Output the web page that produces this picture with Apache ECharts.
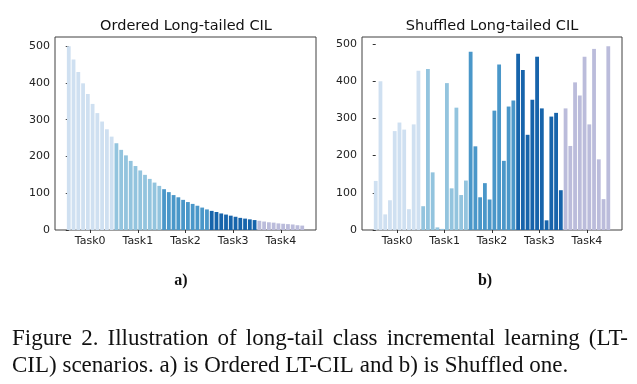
<!DOCTYPE html>
<html>
<head>
<meta charset="utf-8">
<script src="https://cdn.jsdelivr.net/npm/echarts@6/dist/echarts.min.js"></script>
<style>
html,body{margin:0;padding:0;background:#fff;}
#chart{width:637px;height:384px;}
</style>
</head>
<body>
<div id="chart"></div>
<script>
// ---- data ----
const taskLabels = ['Task0', 'Task1', 'Task2', 'Task3', 'Task4'];
const classesPerTask = 10;
const orderedValues = [
  500, 464, 430, 399, 370, 343, 318, 295, 274, 254,
  236, 218, 203, 188, 174, 162, 150, 139, 129, 120,
  111, 103, 95, 89, 82, 76, 71, 66, 61, 56,
  52, 49, 45, 42, 39, 36, 33, 31, 29, 27,
  25, 23, 21, 20, 18, 17, 16, 15, 13, 12
];
const shuffledValues = [
  132, 400, 42, 80, 266, 289, 270, 56, 284, 428,
  64, 433, 155, 7, 3, 395, 112, 329, 94, 133,
  479, 225, 88, 126, 82, 321, 445, 186, 332, 348,
  474, 430, 256, 350, 466, 327, 26, 305, 315, 107,
  327, 226, 397, 362, 466, 284, 487, 190, 83, 494
];
const yTicks = [0, 100, 200, 300, 400, 500];
const titles = ['Ordered Long-tailed CIL', 'Shuffled Long-tailed CIL'];
const subLabels = ['a)', 'b)'];
const captionLines = [
  'Figure 2.  Illustration of long-tail class incremental learning (LT-',
  'CIL) scenarios. a) is Ordered LT-CIL and b) is Shuffled one.'
];

// ---- styling ----
const taskColors = ['#cfe0f1', '#93c4de', '#4a97c9', '#1764ab', '#bbbcdb'];
const taskCenters = taskLabels.map((_, k) => k * classesPerTask + (classesPerTask - 1) / 2);
const n = orderedValues.length;
const xPad = 0.4 + 0.05 * (n - 1 + 0.8);

function pairs(arr) { return arr.map((v, i) => [i, v]); }
function colorOf(p) { return taskColors[Math.floor(p.data[0] / classesPerTask)]; }

const grids = [
  { left: 55, top: 37, width: 261, height: 193 },
  { left: 362, top: 37, width: 260, height: 193 }
];
const yMax = [525, 519];

const capFont = '23px "Liberation Serif"';
// justify the first caption line between x=12 and x=628
const mctx = document.createElement('canvas').getContext('2d');
mctx.font = capFont;
const words = captionLines[0].split(/\s+/);
const wordW = words.map(w => mctx.measureText(w).width);
const totalW = wordW.reduce((a, b) => a + b, 0);
const gap = (628 - 12 - totalW) / (words.length - 1);
const justified = [];
let cx = 12;
words.forEach((w, i) => {
  justified.push({ type: 'text', x: cx, y: 339, style: { text: w, font: capFont, fill: '#111', textAlign: 'left', textVerticalAlign: 'middle' } });
  cx += wordW[i] + gap;
});

const chart = echarts.init(document.getElementById('chart'), null, { renderer: 'canvas' });

const option = {
  animation: false,
  backgroundColor: '#fff',
  grid: grids.map(g => Object.assign({ show: true, borderColor: '#404040', borderWidth: 1, backgroundColor: 'transparent' }, g)),
  xAxis: [0, 1].map(k => ({
    type: 'value', gridIndex: k, min: -xPad, max: n - 1 + xPad,
    splitLine: { show: false },
    axisLine: { show: false },
    axisTick: { show: true, length: 3, lineStyle: { color: '#333' }, customValues: taskCenters },
    axisLabel: {
      customValues: taskCenters, color: '#222', fontSize: 11, fontFamily: 'DejaVu Sans', margin: 6,
      formatter: v => taskLabels[Math.round((v - (classesPerTask - 1) / 2) / classesPerTask)]
    }
  })),
  yAxis: [0, 1].map(k => ({
    type: 'value', gridIndex: k, min: 0, max: yMax[k],
    splitLine: { show: false },
    axisLine: { show: false },
    axisTick: { show: true, length: 3, lineStyle: { color: '#333' }, customValues: yTicks },
    axisLabel: { customValues: yTicks, color: '#222', fontSize: 11, fontFamily: 'DejaVu Sans', margin: 5 }
  })),
  series: [orderedValues, shuffledValues].map((arr, k) => ({
    type: 'bar', xAxisIndex: k, yAxisIndex: k,
    data: pairs(arr),
    barWidth: 3.8,
    itemStyle: { color: colorOf }
  })),
  graphic: [
    { type: 'text', x: 186, y: 26, style: { text: titles[0], font: '14.5px "DejaVu Sans"', fill: '#111', textAlign: 'center', textVerticalAlign: 'middle' } },
    { type: 'text', x: 492, y: 26, style: { text: titles[1], font: '14.5px "DejaVu Sans"', fill: '#111', textAlign: 'center', textVerticalAlign: 'middle' } },
    { type: 'text', x: 181, y: 281, style: { text: subLabels[0], font: 'bold 16px "Liberation Serif"', fill: '#111', textAlign: 'center', textVerticalAlign: 'middle' } },
    { type: 'text', x: 485, y: 281, style: { text: subLabels[1], font: 'bold 16px "Liberation Serif"', fill: '#111', textAlign: 'center', textVerticalAlign: 'middle' } },
    ...justified,
    { type: 'text', x: 12, y: 366, style: { text: captionLines[1], font: capFont, fill: '#111', textAlign: 'left', textVerticalAlign: 'middle' } }
  ]
};
chart.setOption(option);
</script>
</body>
</html>
